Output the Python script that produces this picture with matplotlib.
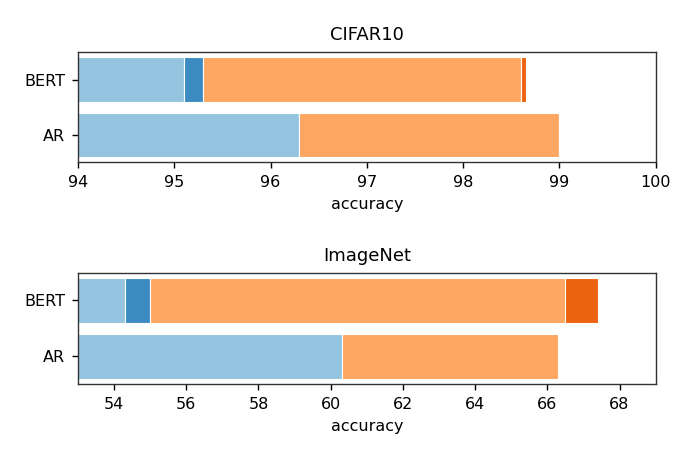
import numpy as np
import matplotlib
matplotlib.use("Agg")
import matplotlib.pyplot as plt
from matplotlib import cm

models = ["AR", "BERT"]

# CIFAR10 segments (accuracy boundaries)
cifar_base = [96.3, 95.1]
cifar_extra = [0.0, 0.2]
cifar_top = [99.0, 98.6]
cifar_top_extra = [0.0, 0.05]

# ImageNet segments
imnet_base = [60.3, 54.3]
imnet_extra = [0.0, 0.7]
imnet_top = [66.3, 66.5]
imnet_top_extra = [0.0, 0.9]

c_lb = cm.Blues(0.4)
c_db = cm.Blues(0.65)
c_lo = cm.Oranges(0.4)
c_do = cm.Oranges(0.65)

fs = 11.5
plt.rcParams['font.size'] = fs

fig = plt.figure(figsize=(6.96, 4.54), dpi=100)
ax1 = fig.add_axes([0.112, 0.6425, 0.830, 0.2423])
ax2 = fig.add_axes([0.112, 0.1548, 0.830, 0.2438])


def draw(ax, lo, base, extra, top, top_extra, xlim, ticks, title):
    y = np.arange(len(models))
    base = np.array(base)
    extra = np.array(extra)
    top = np.array(top)
    top_extra = np.array(top_extra)
    kw = dict(edgecolor='white', linewidth=0.8, height=0.8)
    ax.barh(y, base - lo, left=lo, color=c_lb, **kw)
    ax.barh(y, extra, left=base, color=c_db, **kw)
    mid = base + extra
    ax.barh(y, top - mid, left=mid, color=c_lo, **kw)
    ax.barh(y, top_extra, left=top, color=c_do, **kw)
    ax.set_yticks(y)
    ax.set_yticklabels(models)
    ax.set_xlim(*xlim)
    ax.set_xticks(ticks)
    ax.set_xlabel("accuracy", fontsize=fs, labelpad=5)
    ax.set_title(title, fontsize=13, pad=9)
    ax.tick_params(length=4.3, width=1.0, labelsize=fs, pad=5)
    for s in ax.spines.values():
        s.set_linewidth(1.0)
        s.set_color('#333333')


draw(ax1, 94, cifar_base, cifar_extra, cifar_top, cifar_top_extra,
     (94, 100), [94, 95, 96, 97, 98, 99, 100], "CIFAR10")
draw(ax2, 53, imnet_base, imnet_extra, imnet_top, imnet_top_extra,
     (53, 69), [54, 56, 58, 60, 62, 64, 66, 68], "ImageNet")

fig.savefig("out.png", dpi=100)
